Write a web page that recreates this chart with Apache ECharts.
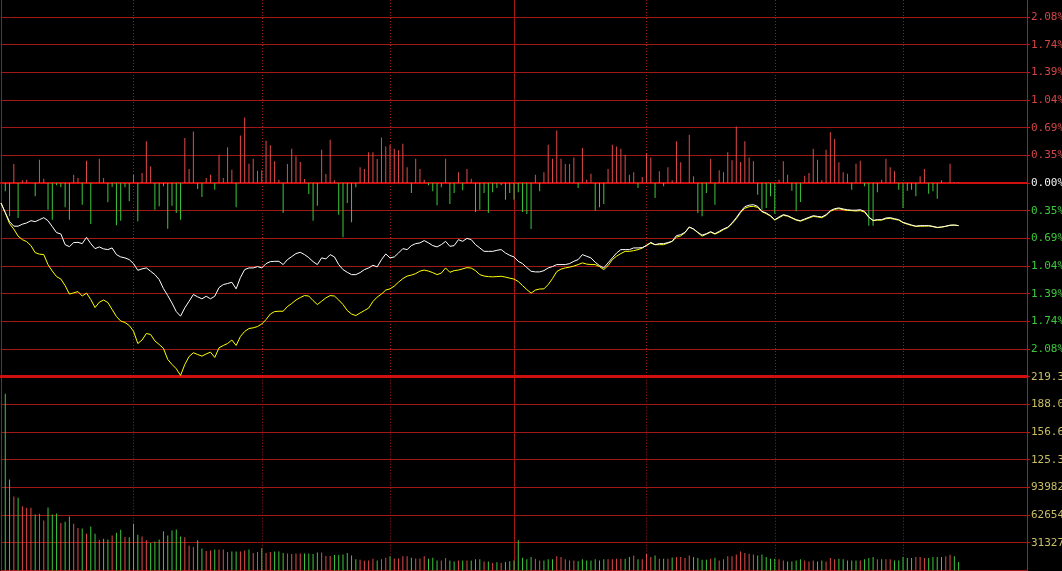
<!DOCTYPE html>
<html><head><meta charset="utf-8">
<script src="https://cdn.jsdelivr.net/npm/echarts@6/dist/echarts.min.js"></script>
<style>html,body{margin:0;padding:0;background:#000;}#c{width:1062px;height:571px;}</style>
</head><body><div id="c"></div>
<script>
// ---- time categories (09:30-11:30, 13:01-15:00) ----
const times = [];
for (let m = 9 * 60 + 30; m <= 11 * 60 + 30; m++) times.push(String(Math.floor(m / 60)).padStart(2, '0') + ':' + String(m % 60).padStart(2, '0'));
for (let m = 13 * 60 + 1; m <= 15 * 60; m++) times.push(String(Math.floor(m / 60)).padStart(2, '0') + ':' + String(m % 60).padStart(2, '0'));

// ---- price lines (% change vs previous close) ----
const whiteLine = [
-0.251,-0.372,-0.485,-0.542,-0.542,-0.517,-0.501,-0.473,-0.485,-0.460,
-0.435,-0.473,-0.548,-0.623,-0.639,-0.774,-0.799,-0.748,-0.745,-0.761,
-0.682,-0.761,-0.824,-0.802,-0.827,-0.836,-0.815,-0.899,-0.928,-0.940,
-0.962,-1.012,-1.096,-1.078,-1.066,-1.108,-1.150,-1.212,-1.325,-1.413,
-1.507,-1.614,-1.672,-1.567,-1.484,-1.400,-1.429,-1.454,-1.422,-1.454,
-1.422,-1.313,-1.275,-1.262,-1.246,-1.329,-1.187,-1.087,-1.066,-1.066,
-1.049,-1.066,-1.012,-0.987,-0.983,-0.983,-1.024,-0.962,-0.924,-0.886,
-0.870,-0.899,-0.937,-0.987,-1.024,-0.940,-0.953,-0.899,-0.928,-1.024,
-1.087,-1.121,-1.150,-1.150,-1.125,-1.087,-1.066,-1.033,-1.053,-0.962,
-0.890,-0.940,-0.928,-0.878,-0.824,-0.836,-0.786,-0.761,-0.752,-0.723,
-0.752,-0.786,-0.802,-0.774,-0.732,-0.795,-0.786,-0.711,-0.732,-0.695,
-0.711,-0.774,-0.815,-0.858,-0.858,-0.858,-0.845,-0.836,-0.878,-0.908,
-0.928,-0.983,-1.012,-1.062,-1.108,-1.116,-1.116,-1.100,-1.066,-1.049,
-1.024,-1.024,-1.024,-1.012,-0.983,-0.962,-0.899,-0.920,-0.940,-0.995,
-1.037,-1.066,-1.003,-0.940,-0.878,-0.836,-0.836,-0.836,-0.815,-0.815,
-0.811,-0.786,-0.745,-0.774,-0.761,-0.761,-0.748,-0.732,-0.661,-0.648,
-0.619,-0.552,-0.577,-0.619,-0.654,-0.636,-0.611,-0.636,-0.607,-0.577,
-0.554,-0.501,-0.435,-0.360,-0.297,-0.278,-0.272,-0.293,-0.356,-0.376,
-0.410,-0.460,-0.426,-0.397,-0.410,-0.435,-0.460,-0.473,-0.451,-0.431,
-0.410,-0.419,-0.426,-0.397,-0.347,-0.322,-0.313,-0.326,-0.335,-0.341,
-0.341,-0.335,-0.356,-0.426,-0.469,-0.460,-0.460,-0.439,-0.435,-0.448,
-0.460,-0.494,-0.510,-0.527,-0.542,-0.535,-0.535,-0.535,-0.544,-0.557,
-0.552,-0.542,-0.529,-0.527,-0.535
];
const yellowLine = [
-0.251,-0.372,-0.510,-0.579,-0.667,-0.711,-0.736,-0.786,-0.874,-0.893,
-0.899,-1.024,-1.106,-1.175,-1.206,-1.288,-1.394,-1.379,-1.363,-1.419,
-1.382,-1.463,-1.563,-1.497,-1.469,-1.501,-1.588,-1.676,-1.733,-1.751,
-1.789,-1.861,-2.015,-1.971,-1.889,-1.902,-1.983,-2.027,-2.077,-2.215,
-2.278,-2.332,-2.416,-2.278,-2.178,-2.131,-2.153,-2.174,-2.146,-2.124,
-2.190,-2.069,-2.040,-2.015,-1.971,-2.040,-1.927,-1.864,-1.827,-1.818,
-1.802,-1.770,-1.714,-1.645,-1.614,-1.610,-1.610,-1.551,-1.513,-1.469,
-1.438,-1.413,-1.419,-1.476,-1.526,-1.484,-1.442,-1.413,-1.419,-1.469,
-1.526,-1.601,-1.645,-1.664,-1.632,-1.601,-1.570,-1.488,-1.432,-1.394,
-1.344,-1.329,-1.294,-1.244,-1.200,-1.168,-1.156,-1.137,-1.106,-1.093,
-1.106,-1.125,-1.150,-1.131,-1.066,-1.121,-1.100,-1.093,-1.078,-1.062,
-1.068,-1.100,-1.150,-1.168,-1.175,-1.178,-1.175,-1.171,-1.181,-1.194,
-1.206,-1.237,-1.288,-1.338,-1.382,-1.344,-1.331,-1.329,-1.275,-1.200,
-1.112,-1.081,-1.066,-1.056,-1.043,-1.024,-1.003,-1.018,-1.024,-1.024,
-1.049,-1.087,-1.037,-0.962,-0.918,-0.886,-0.858,-0.858,-0.849,-0.836,
-0.817,-0.780,-0.755,-0.774,-0.774,-0.774,-0.755,-0.732,-0.680,-0.664,
-0.623,-0.554,-0.579,-0.623,-0.667,-0.642,-0.617,-0.642,-0.617,-0.585,
-0.560,-0.510,-0.448,-0.372,-0.316,-0.297,-0.293,-0.306,-0.360,-0.385,
-0.416,-0.466,-0.435,-0.406,-0.416,-0.441,-0.466,-0.479,-0.460,-0.439,
-0.419,-0.426,-0.435,-0.406,-0.356,-0.331,-0.322,-0.335,-0.344,-0.347,
-0.351,-0.347,-0.364,-0.431,-0.473,-0.466,-0.466,-0.448,-0.444,-0.456,
-0.466,-0.498,-0.517,-0.532,-0.544,-0.542,-0.542,-0.539,-0.548,-0.560,
-0.554,-0.544,-0.532,-0.529,-0.535
];
// ---- buy/sell strength bars (same % scale, + red / - green) ----
const strength = [
0,-0.104,-0.417,0.238,-0.439,0.034,0.041,0,-0.167,0.292,
0.054,-0.335,-0.460,-0.029,-0.054,-0.305,-0.460,0.104,0.063,-0.272,
0.280,-0.514,0,0.305,0.063,-0.242,-0.050,-0.530,-0.473,-0.054,
-0.229,0.104,-0.480,0.125,0.523,0.209,-0.335,-0.292,-0.041,-0.573,
-0.285,-0.376,-0.460,0.564,0.176,0.648,-0.075,-0.176,0.063,0.104,
-0.084,0.355,0.063,0.448,0.167,-0.305,0.598,0.824,0.242,0.305,
0.154,0.159,0.530,0.473,0.272,0.041,-0.376,0.238,0.430,0.335,
0.263,0.050,-0.138,-0.473,-0.285,0.417,0.113,0.543,0.034,-0.397,
-0.681,-0.251,-0.493,-0.054,0.197,0.176,0.385,0.385,0.301,0.573,
0.460,0.480,0.430,0.410,0.493,0.197,-0.125,0.305,0.176,0.041,
-0.029,-0.104,-0.280,-0.054,0.305,-0.263,-0.125,0.134,-0.092,0.176,
0.054,-0.364,-0.335,-0.125,-0.376,-0.117,-0.063,-0.029,-0.209,-0.125,
-0.209,-0.117,-0.364,-0.389,-0.577,0.104,-0.104,0.134,0.480,0.305,
0.661,0.305,0.238,0.238,0.322,-0.063,0.439,0.041,0.117,-0.347,
-0.305,-0.263,0.176,0.480,0.460,0.430,0.355,0.104,0.134,-0.063,
0.075,0.367,0.322,-0.188,0.147,-0.041,0.197,0.034,0.523,0.260,
0,0.606,0.084,-0.376,-0.417,-0.125,0.305,-0.272,0.159,0.134,
0.385,0.285,0.711,0.263,0.523,0.322,0.272,-0.147,-0.335,-0.313,
-0.167,-0.385,0.041,0.272,0.104,-0.097,-0.355,-0.238,0.092,0.125,
0.430,0.292,0.034,0.417,0.639,0.552,0.260,0.134,0.117,-0.084,
0.242,0.280,-0.041,-0.535,-0.535,-0.117,0.041,0.305,0.197,0.147,
-0.084,-0.313,-0.097,-0.084,-0.167,0.084,0.176,-0.134,-0.104,-0.197,
0.034,0,0.242,0.013,0.013
];
// ---- volume per minute and its colour flag (1 = up/red, 0 = down/green) ----
const volume = [
null,200000,103000,83800,82300,72500,71000,71000,63400,64200,
56600,71300,63400,64500,53600,55100,61100,52900,47900,47500,
41500,49800,41500,34800,35900,35100,39600,42700,46100,37700,
37400,52900,40400,38500,34000,30900,32800,35100,44200,39600,
45300,46400,38500,37400,28300,26400,34000,24900,21900,22600,
23800,23800,23800,20700,21500,21500,21500,22600,23800,19600,
20700,25200,19600,20700,21500,21500,19600,19200,18500,19200,
19200,19200,19200,18500,20400,20400,16200,16200,17300,17300,
18100,19600,17000,12500,12100,11000,11300,13200,11300,12500,
14400,15900,13600,13600,15900,15900,14400,13600,13600,15900,
13200,14400,11300,11300,13900,11300,10200,11300,11300,11300,
11300,12500,12500,10200,10200,8300,9100,8300,9400,10500,
11300,34000,14400,12500,15100,13200,11300,11300,12500,12500,
15900,15100,12500,11300,11300,10500,12500,11300,11300,12500,
11300,12500,12500,12500,13200,13200,13200,15100,17000,12500,
12500,18900,15100,17000,13200,13200,13200,14700,15100,15100,
13900,17000,15100,13900,12100,12100,13200,14400,11300,12500,
15900,15900,18100,21500,19600,18900,18100,17000,18100,15100,
13200,13200,12500,11300,10200,10200,11300,12500,11300,10200,
11300,10200,11300,10200,13900,12500,13200,12500,11300,11300,
11300,11300,12500,13900,15100,12500,12500,12500,12500,11300,
11300,15100,13900,13900,15100,15100,13900,13900,15100,15100,
15100,15900,17800,15900,9400
];
const volUp = [
0,0,0,1,0,1,1,1,0,1,
1,0,0,0,1,0,0,1,1,0,
1,0,0,1,0,0,1,0,0,1,
0,0,0,1,1,0,0,0,0,0,
0,0,0,1,1,1,0,0,1,1,
0,1,1,1,0,0,1,1,0,1,
1,0,1,1,0,0,0,1,1,1,
1,0,0,0,0,1,1,1,0,0,
0,0,0,0,1,1,1,1,0,1,
1,0,1,1,1,1,0,1,1,1,
0,0,0,1,1,0,0,1,0,1,
0,0,0,1,0,1,0,1,0,0,
0,0,0,0,0,1,1,0,0,0,
1,1,1,1,1,0,0,0,0,0,
0,0,1,1,1,1,0,0,1,0,
1,1,1,0,1,0,1,0,1,1,
1,1,0,0,0,0,1,0,1,1,
1,1,1,1,1,1,1,0,0,0,
0,0,1,1,0,0,0,0,1,1,
1,0,0,1,1,1,0,0,0,0,
0,1,0,0,0,1,0,1,1,0,
0,0,0,0,1,1,1,0,0,0,
0,1,1,0,0
];
// axis tick steps
const pctStep = 0.3474;
const volStep = 31327.4;
// time-grid marks (category indices)
const dottedMarks = [31, 61, 91, 151, 181, 211];
const solidMarks = [0, 120];

const RED = '#e24a4a', GREEN = '#3cc83c';
const GRID = '#a01818', GRID_BRIGHT = '#d01010';
const FONT = 'DejaVu Sans Mono';
const FS = 11;

const chart = echarts.init(document.getElementById('c'), null, {renderer: 'canvas'});
const hidden = {show: false};
function xCat(grid, pos, extra) {
  return Object.assign({
    type: 'category', gridIndex: grid, data: times, boundaryGap: false, position: pos,
    axisTick: hidden, axisLabel: hidden
  }, extra);
}
chart.setOption({
  backgroundColor: '#000000',
  animation: false,
  grid: [
    {left: 1, right: 35, top: 0, height: 376.7, containLabel: false, outerBoundsMode: 'none'},
    {left: 1, right: 35, top: 376.7, height: 193.7, containLabel: false, outerBoundsMode: 'none'}
  ],
  xAxis: [
    xCat(0, 'bottom', {
      axisLine: {show: true, onZero: true, lineStyle: {color: GRID_BRIGHT, width: 2}},
      splitLine: {show: true, interval: (i) => dottedMarks.includes(i), lineStyle: {color: GRID, width: 1, type: [1, 2]}}
    }),
    xCat(0, 'top', {
      axisLine: {show: false, onZero: false},
      splitLine: {show: true, interval: (i) => solidMarks.includes(i), lineStyle: {color: GRID, width: 1}}
    }),
    xCat(1, 'bottom', {
      axisLine: {show: true, onZero: false, lineStyle: {color: GRID, width: 1}},
      splitLine: {show: true, interval: (i) => dottedMarks.includes(i), lineStyle: {color: GRID, width: 1, type: [1, 2]}}
    }),
    xCat(1, 'top', {
      axisLine: {show: true, onZero: false, lineStyle: {color: GRID_BRIGHT, width: 3}},
      splitLine: {show: true, interval: (i) => solidMarks.includes(i), lineStyle: {color: GRID, width: 1}}
    })
  ],
  yAxis: [
    {
      type: 'value', gridIndex: 0, position: 'right',
      min: -7 * pctStep, max: 6.615 * pctStep, interval: pctStep,
      axisLine: {show: true, lineStyle: {color: GRID_BRIGHT, width: 1}},
      axisTick: {show: true, length: 3, lineStyle: {color: GRID_BRIGHT}},
      splitLine: {show: true, showMaxLine: false, lineStyle: {color: GRID, width: 1}},
      axisLabel: {
        show: true, margin: 4, showMinLabel: false, showMaxLabel: false,
        fontFamily: FONT, fontSize: FS,
        formatter: (v) => {
          const s = Math.abs(v).toFixed(2) + '%';
          if (Math.abs(v) < 1e-6) return '{z|' + s + '}';
          return v > 0 ? '{p|' + s + '}' : '{n|' + s + '}';
        },
        rich: {
          p: {color: '#d24646', fontFamily: FONT, fontSize: FS},
          z: {color: '#f0f0f0', fontFamily: FONT, fontSize: FS},
          n: {color: '#3cc83c', fontFamily: FONT, fontSize: FS}
        }
      }
    },
    {
      type: 'value', gridIndex: 1, position: 'right',
      min: 0, max: 7 * volStep, interval: volStep,
      axisLine: {show: true, lineStyle: {color: GRID_BRIGHT, width: 1}},
      axisTick: {show: true, length: 3, lineStyle: {color: GRID_BRIGHT}},
      splitLine: {show: true, lineStyle: {color: GRID, width: 1}},
      axisLabel: {
        show: true, margin: 4, showMinLabel: false, showMaxLabel: true,
        fontFamily: FONT, fontSize: FS, color: '#c8be64',
        formatter: (v) => v >= 100000 ? (v / 1000).toFixed(1) + 'k' : String(Math.floor(v))
      }
    }
  ],
  series: [
    {
      type: 'bar', xAxisIndex: 0, yAxisIndex: 0, barWidth: 1, silent: true,
      data: strength.map(v => ({value: v, itemStyle: {color: v >= 0 ? RED : GREEN}}))
    },
    {
      type: 'line', xAxisIndex: 0, yAxisIndex: 0, data: whiteLine, symbol: 'none', silent: true,
      lineStyle: {color: '#ffffff', width: 1}, z: 5
    },
    {
      type: 'line', xAxisIndex: 0, yAxisIndex: 0, data: yellowLine, symbol: 'none', silent: true,
      lineStyle: {color: '#ffff00', width: 1}, z: 4
    },
    {
      type: 'bar', xAxisIndex: 2, yAxisIndex: 1, barWidth: 1, silent: true,
      data: volume.map((v, i) => ({value: v, itemStyle: {color: volUp[i] ? RED : GREEN}}))
    }
  ]
});
</script>
</body></html>
